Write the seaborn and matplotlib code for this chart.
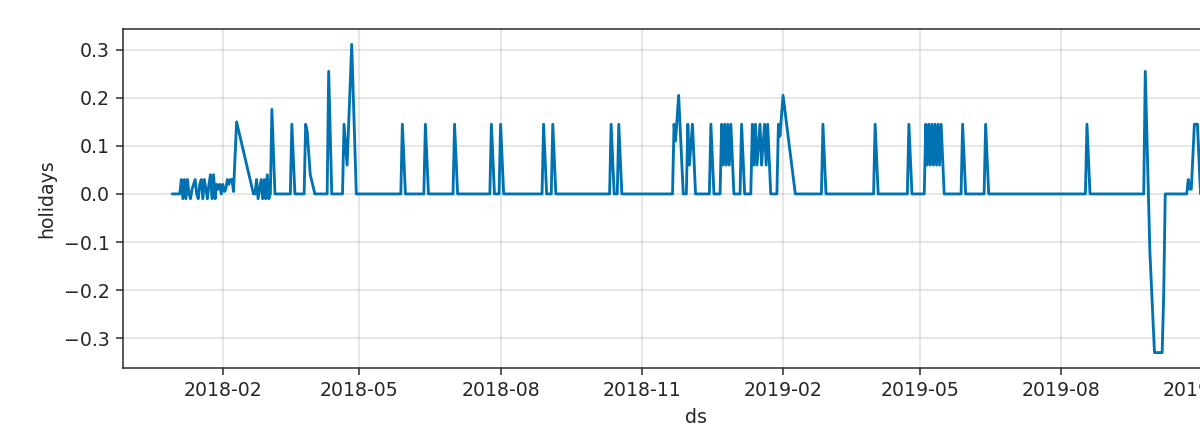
import pandas as pd
import matplotlib
matplotlib.use("Agg")
import matplotlib.pyplot as plt
import matplotlib.dates as mdates
import seaborn as sns

sns.set_style("ticks")
plt.rcParams["font.family"] = ["DejaVu Sans"]

# holiday component values
ds = [
    "2017-12-30", "2018-01-04", "2018-01-05", "2018-01-06", "2018-01-07", "2018-01-08",
    "2018-01-09", "2018-01-10", "2018-01-11", "2018-01-12", "2018-01-14", "2018-01-15",
    "2018-01-16", "2018-01-17", "2018-01-18", "2018-01-19", "2018-01-20", "2018-01-21",
    "2018-01-22", "2018-01-23", "2018-01-24", "2018-01-25", "2018-01-26", "2018-01-27",
    "2018-01-28", "2018-01-29", "2018-01-30", "2018-01-31", "2018-02-01", "2018-02-02",
    "2018-02-03", "2018-02-04", "2018-02-05", "2018-02-06", "2018-02-07", "2018-02-08",
    "2018-02-10", "2018-02-21", "2018-02-22", "2018-02-23", "2018-02-24", "2018-02-25",
    "2018-02-26", "2018-02-27", "2018-02-28", "2018-03-01", "2018-03-02", "2018-03-03",
    "2018-03-04", "2018-03-05", "2018-03-07",
    "2018-03-17", "2018-03-18", "2018-03-20",
    "2018-03-26", "2018-03-27", "2018-03-28", "2018-03-30", "2018-04-02",
    "2018-04-10", "2018-04-11", "2018-04-13",
    "2018-04-20", "2018-04-21", "2018-04-23", "2018-04-26", "2018-04-29",
    "2018-05-28", "2018-05-29", "2018-05-31",
    "2018-06-12", "2018-06-13", "2018-06-15",
    "2018-07-01", "2018-07-02", "2018-07-04",
    "2018-07-25", "2018-07-26", "2018-07-28",
    "2018-07-31", "2018-08-01", "2018-08-03",
    "2018-08-28", "2018-08-29", "2018-08-31",
    "2018-09-03", "2018-09-04", "2018-09-06",
    "2018-10-11", "2018-10-12", "2018-10-14",
    "2018-10-16", "2018-10-17", "2018-10-19",
    "2018-11-21", "2018-11-22", "2018-11-23", "2018-11-25", "2018-11-28",
    "2018-11-30", "2018-12-01", "2018-12-02", "2018-12-04", "2018-12-06",
    "2018-12-15", "2018-12-16", "2018-12-18",
    "2018-12-22", "2018-12-23", "2018-12-24", "2018-12-25", "2018-12-26", "2018-12-27",
    "2018-12-28", "2018-12-29", "2018-12-31",
    "2019-01-04", "2019-01-05", "2019-01-07",
    "2019-01-11", "2019-01-12", "2019-01-13", "2019-01-14", "2019-01-15", "2019-01-17",
    "2019-01-18", "2019-01-20", "2019-01-21", "2019-01-22", "2019-01-24",
    "2019-01-28", "2019-01-29", "2019-01-30", "2019-02-01", "2019-02-09",
    "2019-02-26", "2019-02-27", "2019-03-01",
    "2019-04-01", "2019-04-02", "2019-04-04",
    "2019-04-23", "2019-04-24", "2019-04-26",
    "2019-05-04", "2019-05-05", "2019-05-06", "2019-05-07", "2019-05-08", "2019-05-09",
    "2019-05-10", "2019-05-11", "2019-05-12", "2019-05-13", "2019-05-14", "2019-05-15",
    "2019-05-17",
    "2019-05-28", "2019-05-29", "2019-05-31",
    "2019-06-12", "2019-06-13", "2019-06-15",
    "2019-08-17", "2019-08-18", "2019-08-20",
    "2019-09-24", "2019-09-25", "2019-09-28", "2019-10-01", "2019-10-06", "2019-10-07",
    "2019-10-08",
    "2019-10-22", "2019-10-23", "2019-10-24", "2019-10-25", "2019-10-27", "2019-10-29",
    "2019-10-31",
]
holidays = [
    0.0, 0.0, 0.03, -0.01, 0.03, -0.01,
    0.03, 0.0, -0.01, 0.01, 0.03, 0.0,
    -0.01, 0.02, 0.03, -0.01, 0.03, 0.01,
    -0.01, 0.02, 0.04, -0.01, 0.04, -0.01,
    0.02, 0.01, 0.02, 0.0, 0.02, 0.005,
    0.01, 0.03, 0.02, 0.03, 0.03, 0.005,
    0.15, 0.0, 0.0, 0.03, -0.01, 0.01,
    0.03, -0.01, 0.03, -0.01, 0.04, -0.01,
    0.0, 0.176, 0.0,
    0.0, 0.145, 0.0,
    0.0, 0.145, 0.13, 0.04, 0.0,
    0.0, 0.255, 0.0,
    0.0, 0.145, 0.06, 0.311, 0.0,
    0.0, 0.145, 0.0,
    0.0, 0.145, 0.0,
    0.0, 0.145, 0.0,
    0.0, 0.145, 0.0,
    0.0, 0.145, 0.0,
    0.0, 0.145, 0.0,
    0.0, 0.145, 0.0,
    0.0, 0.145, 0.0,
    0.0, 0.145, 0.0,
    0.0, 0.145, 0.11, 0.205, 0.0,
    0.0, 0.145, 0.06, 0.145, 0.0,
    0.0, 0.145, 0.0,
    0.0, 0.145, 0.06, 0.145, 0.06, 0.145,
    0.06, 0.145, 0.0,
    0.0, 0.145, 0.0,
    0.0, 0.145, 0.06, 0.145, 0.06, 0.145,
    0.06, 0.145, 0.06, 0.145, 0.0,
    0.0, 0.145, 0.12, 0.205, 0.0,
    0.0, 0.145, 0.0,
    0.0, 0.145, 0.0,
    0.0, 0.145, 0.0,
    0.0, 0.145, 0.06, 0.145, 0.06, 0.145,
    0.06, 0.145, 0.06, 0.145, 0.06, 0.145,
    0.0,
    0.0, 0.145, 0.0,
    0.0, 0.145, 0.0,
    0.0, 0.145, 0.0,
    0.0, 0.255, -0.12, -0.33, -0.33, -0.21,
    0.0,
    0.0, 0.03, 0.01, 0.01, 0.145, 0.145,
    0.0,
]

df = pd.DataFrame({"ds": pd.to_datetime(ds), "holidays": holidays})

dpi = 136
fig = plt.figure(figsize=(1200 / dpi, 442 / dpi), dpi=dpi)
# the axes run past the right edge of the picture, as in the reference crop
ax = fig.add_axes([0.1025, 0.1674, 0.9555, 0.767])

sns.lineplot(data=df, x="ds", y="holidays", color="#0072B2", linewidth=1.5,
             estimator=None, sort=False, ax=ax)

ax.set_xlim(pd.Timestamp("2017-11-28"), pd.Timestamp("2019-12-15"))
ax.xaxis.set_major_locator(mdates.MonthLocator(bymonth=[2, 5, 8, 11]))
ax.xaxis.set_major_formatter(mdates.DateFormatter("%Y-%m"))
ax.grid(True, which="major", c="gray", ls="-", lw=1, alpha=0.2)
ax.set_xlabel("ds")
ax.set_ylabel("holidays")

fig.savefig("out.png", dpi=dpi)
